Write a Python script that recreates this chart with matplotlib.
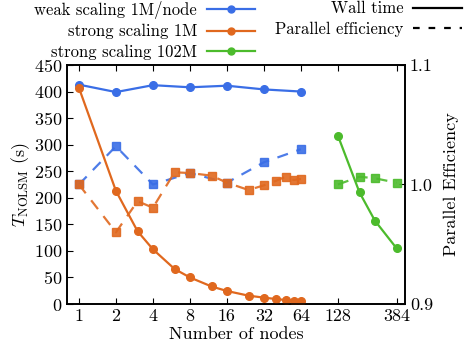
import matplotlib as mpl
mpl.use('Agg')

import matplotlib.pyplot as plt
from matplotlib.lines import Line2D
import numpy

plt.rcParams.update({'font.size': 13,
                     'font.family': 'serif',
                     'font.serif': ['cmr10', 'DejaVu Serif'],
                     'mathtext.fontset': 'cm',
                     'axes.formatter.use_mathtext': True})

# %% data
weak_nodes = [1, 2, 4, 8, 16, 32, 64]
weak_time  = [413, 399, 412, 408, 411, 404, 400]
weak_eff   = [1.0, 1.032, 1.0, 1.0096, 1.0015, 1.0186, 1.0295]

strong_nodes = [1, 2, 3, 4, 6, 8, 12, 16, 24, 32, 40, 48, 56, 64]
strong_time  = [407, 213, 137, 103, 66, 50, 33, 24.5, 15.7, 12, 9.4, 7.5, 6.3, 6.3]
strong_eff   = [1.0, 0.960, 0.986, 0.9806, 1.0102, 1.0096, 1.0074, 1.0015,
                0.9954, 0.9993, 1.003, 1.0065, 1.0038, 1.0046]

big_nodes = [128, 192, 256, 384]
big_time  = [317, 210, 157, 105]
big_eff   = [1.0, 1.0065, 1.0052, 1.0015]

xticks = [1, 2, 4, 8, 16, 32, 64, 128, 384]

c_blue   = '#3a6ee6'
c_orange = '#e0681e'
c_green  = '#4cbb2c'

# %% plot
fig = plt.figure(figsize=[4.74, 3.53], dpi=100)
ax1 = fig.add_axes([0.1414, 0.1388, 0.713, 0.6771])
ax2 = ax1.twinx()

series = [(weak_nodes, weak_time, weak_eff, c_blue),
          (strong_nodes, strong_time, strong_eff, c_orange),
          (big_nodes, big_time, big_eff, c_green)]

for nodes, tt, eff, col in series:
    ax1.plot(nodes, tt, '-o', color=col, linewidth=1.6, markersize=5.5,
             markeredgecolor=col, zorder=3)
    ax2.plot(nodes, eff, '--s', color=col, linewidth=1.6, markersize=5.5,
             dashes=(5, 4), markerfacecolor=col, markeredgecolor=col,
             alpha=0.9, zorder=2)

ax1.set_xscale('log', base=2)
ax1.set_xlim(0.8, 450)
ax1.set_xticks(xticks)
ax1.set_xticklabels([str(v) for v in xticks])
ax1.minorticks_off()
ax1.set_ylim(0, 450)
ax1.set_yticks(numpy.arange(0, 451, 50))
ax2.set_ylim(0.9, 1.1)
ax2.set_yticks([0.9, 1.0, 1.1])
ax2.set_yticklabels(['0.9', '1.0', '1.1'])
ax2.minorticks_off()

ax1.tick_params(direction='in', top=True, length=4, labelsize=13)
ax2.tick_params(direction='in', length=4, labelsize=13)

ax1.set_xlabel('Number of nodes', fontsize=13, labelpad=2)
ax1.set_ylabel(r'$T_{\mathrm{NOLSM}}$ (s)', fontsize=13, labelpad=1)
ax2.set_ylabel('Parallel Efficiency', fontsize=13, labelpad=8)

for a in (ax1, ax2):
    for s in a.spines.values():
        s.set_linewidth(1.2)

# legends above the axes
h_left = [Line2D([], [], color=c, marker='o', markersize=5, linewidth=1.6)
          for c in (c_blue, c_orange, c_green)]
leg1 = fig.legend(h_left, ['weak scaling 1M/node', 'strong scaling 1M', 'strong scaling 102M'],
                  loc='upper right', bbox_to_anchor=(0.56, 1.025), frameon=False,
                  markerfirst=False, fontsize=12, handlelength=2.9,
                  labelspacing=0.3, handletextpad=0.6, borderaxespad=0.2)

h_right = [Line2D([], [], color='black', linewidth=1.6),
           Line2D([], [], color='black', linewidth=1.6, linestyle='--', dashes=(3, 4))]
leg2 = fig.legend(h_right, ['Wall time', 'Parallel efficiency'],
                  loc='upper right', bbox_to_anchor=(0.995, 1.025), frameon=False,
                  markerfirst=False, fontsize=12, handlelength=2.9,
                  labelspacing=0.3, handletextpad=0.6, borderaxespad=0.2)

plt.savefig('out.png', dpi=100)
